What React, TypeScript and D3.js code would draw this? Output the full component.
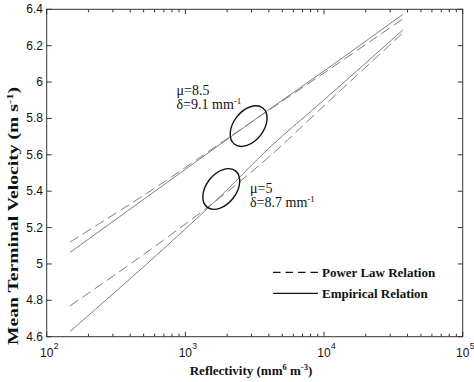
import React from "react";
import * as d3 from "d3";

// ---- data ----
const reflectivity = [147, 800, 1800, 4000, 10000, 37000];
const powerLawMu85 = [5.12, 5.48, 5.665, 5.845, 6.05, 6.347];
const empiricalMu85 = [5.063, 5.467, 5.66, 5.848, 6.061, 6.372];
const powerLawMu5 = [4.769, 5.165, 5.368, 5.588, 5.87, 6.27];
const empiricalMu5 = [4.628, 5.125, 5.374, 5.636, 5.902, 6.286];

const yTicks = [4.6, 4.8, 5, 5.2, 5.4, 5.6, 5.8, 6, 6.2, 6.4];
const xDecades = [2, 3, 4, 5];

// annotation ellipses (data coords of centres)
const ellipseZ = [2860, 1815];
const ellipseV = [5.758, 5.412];

const W = 474;
const H = 382;
const left = 46.7;
const right = 462.7;
const top = 9.3;
const bottom = 336.7;

const serif = "'Liberation Serif', 'Times New Roman', serif";
const sans = "'Liberation Sans', Arial, sans-serif";

export default function App() {
  const x = d3.scaleLog().domain([100, 100000]).range([left, right]);
  const y = d3.scaleLinear().domain([4.6, 6.4]).range([bottom, top]);

  const mk = (vals: number[]) =>
    d3
      .line<number>()
      .x((_, i) => x(reflectivity[i]))
      .y((v) => y(v))
      .curve(d3.curveMonotoneX)(vals) || "";

  const minor: number[] = [];
  for (let e = 2; e < 5; e++) {
    for (let k = 2; k <= 9; k++) minor.push(k * Math.pow(10, e));
  }

  const lineColor = "#808080";
  const axisColor = "#333";

  return (
    <svg
      width={W}
      height={H}
      style={{ position: "absolute", left: 0, top: 0, background: "#fff" }}
    >
      <rect x={0} y={0} width={W} height={H} fill="#fff" />
      {/* series */}
      <path d={mk(powerLawMu85)} fill="none" stroke={lineColor} strokeWidth={1} strokeDasharray="10,5" />
      <path d={mk(empiricalMu85)} fill="none" stroke={lineColor} strokeWidth={1} />
      <path d={mk(powerLawMu5)} fill="none" stroke={lineColor} strokeWidth={1} strokeDasharray="10,5" />
      <path d={mk(empiricalMu5)} fill="none" stroke={lineColor} strokeWidth={1} />

      {/* ellipses */}
      {ellipseZ.map((z, i) => (
        <ellipse
          key={i}
          cx={0}
          cy={0}
          rx={23}
          ry={15}
          fill="none"
          stroke="#111"
          strokeWidth={1.4}
          transform={`translate(${x(z)},${y(ellipseV[i])}) rotate(-52)`}
        />
      ))}

      {/* frame */}
      <rect x={left} y={top} width={right - left} height={bottom - top} fill="none" stroke={axisColor} strokeWidth={1} />

      {/* y ticks */}
      {yTicks.map((t) => (
        <g key={t}>
          <line x1={left} x2={left + 5} y1={y(t)} y2={y(t)} stroke={axisColor} />
          <line x1={right} x2={right - 5} y1={y(t)} y2={y(t)} stroke={axisColor} />
          <text x={43} y={y(t) + 4} textAnchor="end" fontFamily={sans} fontSize={12} fill="#111">
            {String(t)}
          </text>
        </g>
      ))}

      {/* x ticks */}
      {xDecades.map((e) => {
        const px = x(Math.pow(10, e));
        return (
          <g key={e}>
            <line x1={px} x2={px} y1={bottom} y2={bottom - 5} stroke={axisColor} />
            <line x1={px} x2={px} y1={top} y2={top + 5} stroke={axisColor} />
            <text x={px} y={356.5} textAnchor="middle" fontFamily={sans} fontSize={12} fill="#111">
              10
            </text>
            <text x={px + 7} y={349} textAnchor="start" fontFamily={sans} fontSize={8.5} fill="#111">
              {e}
            </text>
          </g>
        );
      })}
      {minor.map((m) => (
        <g key={m}>
          <line x1={x(m)} x2={x(m)} y1={bottom} y2={bottom - 3} stroke={axisColor} />
          <line x1={x(m)} x2={x(m)} y1={top} y2={top + 3} stroke={axisColor} />
        </g>
      ))}

      {/* annotations */}
      <text x={176.5} y={95} fontFamily={serif} fontSize={14} fill="#111">μ=8.5</text>
      <text x={176.5} y={109} fontFamily={serif} fontSize={14} fill="#111">
        δ=9.1 mm<tspan fontSize={9} dy={-5}>-1</tspan>
      </text>
      <text x={250} y={193} fontFamily={serif} fontSize={14} fill="#111">μ=5</text>
      <text x={250} y={207} fontFamily={serif} fontSize={14} fill="#111">
        δ=8.7 mm<tspan fontSize={9} dy={-5}>-1</tspan>
      </text>

      {/* legend */}
      <line x1={273} x2={318} y1={272.3} y2={272.3} stroke="#111" strokeWidth={1.2} strokeDasharray="7.5,5" />
      <text x={322} y={276.5} fontFamily={serif} fontWeight="bold" fontSize={13} fill="#111">
        Power Law Relation
      </text>
      <line x1={273} x2={318} y1={293.3} y2={293.3} stroke="#111" strokeWidth={1.2} />
      <text x={322} y={297.5} fontFamily={serif} fontWeight="bold" fontSize={13} fill="#111">
        Empirical Relation
      </text>

      {/* axis labels */}
      <text x={251} y={375} textAnchor="middle" fontFamily={serif} fontWeight="bold" fontSize={13} fill="#111">
        Reflectivity (mm<tspan fontSize={8.5} dy={-5}>6</tspan>
        <tspan dy={5}> m</tspan>
        <tspan fontSize={8.5} dy={-5}>-3</tspan>
        <tspan dy={5}>)</tspan>
      </text>
      <text
        transform="translate(17.5,216) rotate(-90)"
        textAnchor="middle"
        fontFamily={serif}
        fontWeight="bold"
        fontSize={14}
        fill="#111"
        textLength={258}
        lengthAdjust="spacingAndGlyphs"
      >
        Mean Terminal Velocity (m s<tspan fontSize={9} dy={-5}>-1</tspan>
        <tspan dy={5}>)</tspan>
      </text>
    </svg>
  );
}
